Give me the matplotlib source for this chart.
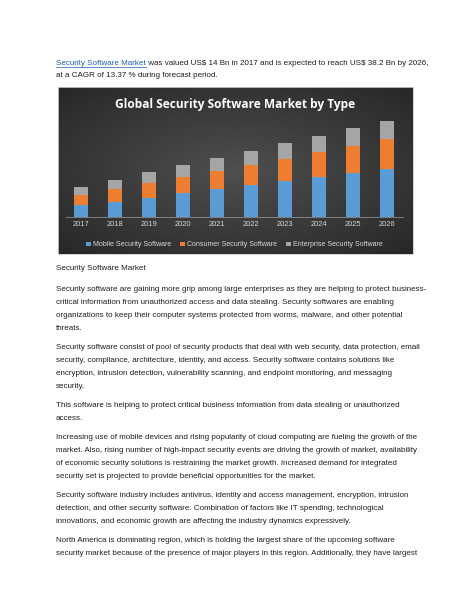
import matplotlib
matplotlib.use("Agg")
import matplotlib.pyplot as plt
import numpy as np

plt.rcParams["text.parse_math"] = False

years = ["2017","2018","2019","2020","2021","2022","2023","2024","2025","2026"]
mobile = [5.4,7.1,8.9,11.1,12.9,14.6,16.5,18.5,20.3,22.2]
consumer = [4.9,6.0,6.9,7.5,8.3,9.5,10.5,11.5,12.3,13.6]
enterprise = [3.7,4.0,4.8,5.4,6.2,6.5,7.1,7.4,8.3,8.5]
series_names = ["Mobile Security Software","Consumer Security Software","Enterprise Security Software"]

W, H = 474, 613
fig = plt.figure(figsize=(W/100, H/100), dpi=100)
fig.patch.set_facecolor("white")
FONT = "Liberation Sans"
FS = 5.75
TC = "#1e1e1e"

def fx(x): return x / W
def fy(y): return 1 - y / H

t = fig.text(fx(56), fy(65), "Security Software Market", color="#1a5fb4", fontsize=FS, family=FONT, va="baseline")
fig.canvas.draw()
bb = t.get_window_extent()
fig.add_artist(plt.Line2D([bb.x0/W, bb.x1/W], [fy(66.5)]*2, color="#1a5fb4", lw=0.5))
fig.text(bb.x1/W, fy(65), " was valued US$ 14 Bn in 2017 and is expected to reach US$ 38.2 Bn by 2026,",
         fontsize=FS, family=FONT, va="baseline", color=TC)
fig.text(fx(56), fy(77), "at a CAGR of 13.37 % during forecast period.", fontsize=FS, family=FONT, va="baseline", color=TC)

bg = fig.add_axes([fx(58), fy(254), (413-58)/W, (254-87)/H])
yy, xx = np.mgrid[-1:1:200j, -1:1:400j]
r = np.sqrt(xx**2 + yy**2)
img = np.clip(0.31 - 0.11 * r, 0.16, 0.31)
bg.imshow(img, cmap="gray", vmin=0, vmax=1, aspect="auto", extent=[0,1,0,1])
bg.set_xticks([]); bg.set_yticks([])
for s in bg.spines.values():
    s.set_color("#cccccc"); s.set_linewidth(0.6)
bg.text(0.5, 0.895, "Global Security Software Market by Type", color="white", fontsize=8.6,
        fontweight="bold", family="Open Sans", ha="center", va="center", transform=bg.transAxes)

ax = fig.add_axes([fx(66), fy(217), (403-66)/W, (217-110)/H])
ax.patch.set_alpha(0)
x = np.arange(len(years))
bw = 0.41
ax.bar(x, mobile, bw, color="#5B9BD5", label=series_names[0])
ax.bar(x, consumer, bw, bottom=mobile, color="#ED7D31", label=series_names[1])
bot = np.array(mobile) + np.array(consumer)
ax.bar(x, enterprise, bw, bottom=bot, color="#A5A5A5", label=series_names[2])
ax.set_xlim(-0.45, 9.46)
ax.set_ylim(0, 49.4)
ax.set_yticks([])
ax.set_xticks(x)
ax.set_xticklabels(years, color="#d9d9d9", fontsize=5.4, family=FONT)
ax.tick_params(axis="x", length=0, pad=3)
for k in ["top","right","left"]:
    ax.spines[k].set_visible(False)
ax.spines["bottom"].set_color("#8c8c8c"); ax.spines["bottom"].set_linewidth(0.6)
leg = ax.legend(loc="upper center", bbox_to_anchor=(0.5, -0.17), ncol=3, frameon=False,
                handlelength=0.7, handleheight=0.7, columnspacing=1.3, handletextpad=0.3,
                prop={"family": FONT, "size": 5.0})
for tx in leg.get_texts():
    tx.set_color("#d9d9d9")

lines = [
 (267, "Security Software Market"),
 (288, "Security software are gaining more grip among large enterprises as they are helping to protect business-"),
 (301, "critical information from unauthorized access and data stealing. Security softwares are enabling"),
 (314, "organizations to keep their computer systems protected from worms, malware, and other potential"),
 (327, "threats."),
 (346, "Security software consist of pool of security products that deal with web security, data protection, email"),
 (359, "security, compliance, architecture, identity, and access. Security software contains solutions like"),
 (372, "encryption, intrusion detection, vulnerability scanning, and endpoint monitoring, and messaging"),
 (385, "security."),
 (404, "This software is helping to protect critical business information from data stealing or unauthorized"),
 (417, "access."),
 (436, "Increasing use of mobile devices and rising popularity of cloud computing are fueling the growth of the"),
 (449, "market. Also, rising number of high-impact security events are driving the growth of market, availability"),
 (462, "of economic security solutions is restraining the market growth. Increased demand for integrated"),
 (475, "security set is projected to provide beneficial opportunities for the market."),
 (494, "Security software industry includes antivirus, identity and access management, encryption, intrusion"),
 (507, "detection, and other security software. Combination of factors like IT spending, technological"),
 (520, "innovations, and economic growth are affecting the industry dynamics expressively."),
 (539, "North America is dominating region, which is holding the largest share of the upcoming software"),
 (552, "security market because of the presence of major players in this region. Additionally, they have largest"),
]
for y, s in lines:
    fig.text(fx(56), fy(y + 3), s, fontsize=FS, family=FONT, va="baseline", color=TC)

fig.savefig("out.png", dpi=100, facecolor="white")
